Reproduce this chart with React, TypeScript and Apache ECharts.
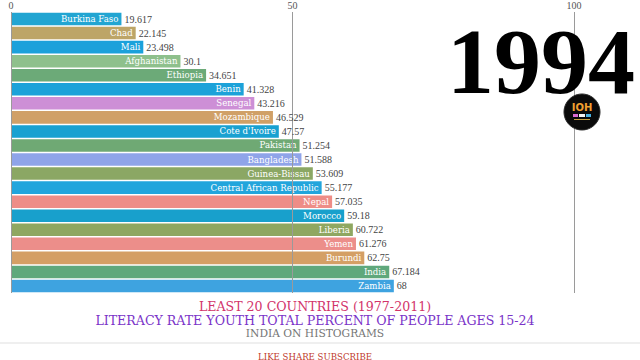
import React, { useEffect, useRef } from "react";
import * as echarts from "echarts";

const countries = [
  "Burkina Faso", "Chad", "Mali", "Afghanistan", "Ethiopia", "Benin", "Senegal",
  "Mozambique", "Cote d'Ivoire", "Pakistan", "Bangladesh", "Guinea-Bissau",
  "Central African Republic", "Nepal", "Morocco", "Liberia", "Yemen", "Burundi",
  "India", "Zambia",
];
const values = [
  19.617, 22.145, 23.498, 30.1, 34.651, 41.328, 43.216, 46.529, 47.57, 51.254,
  51.588, 53.609, 55.177, 57.035, 59.18, 60.722, 61.276, 62.75, 67.184, 68,
];
const barColors = [
  "#22a5d2", "#bda567", "#1ba1db", "#8ec08c", "#6caa78", "#1ca2d9", "#cd8fd6",
  "#d0a067", "#19a1d1", "#6fa974", "#8fa4e9", "#8ba764", "#22a5dc", "#ee8d87",
  "#18a0cc", "#8fa761", "#ec8e8a", "#d49f65", "#5fa87c", "#3ea3e0",
];
const tickValues = [0, 50, 100];
const yearText = "1994";
const title1 = "LEAST 20 COUNTRIES (1977-2011)";
const title2 = "LITERACY RATE YOUTH TOTAL PERCENT OF PEOPLE AGES 15-24";
const title3 = "INDIA ON HISTOGRAMS";
const title4 = "LIKE SHARE SUBSCRIBE";

const SERIF = "DejaVu Serif";
const SERIF2 = "Liberation Serif";

export default function App() {
  const ref = useRef<HTMLDivElement>(null);
  useEffect(() => {
    if (!ref.current) return;
    const chart = echarts.init(ref.current, null, { renderer: "svg" });
    chart.setOption({
      animation: false,
      backgroundColor: "#ffffff",
      grid: { left: 11, right: 66, top: 12, bottom: 67 },
      xAxis: {
        type: "value",
        position: "top",
        min: 0,
        max: 100,
        interval: 50,
        axisLine: { show: false },
        axisTick: { show: false },
        splitLine: { show: false },
        axisLabel: {
          margin: 2,
          fontFamily: SERIF2,
          fontSize: 10,
          color: "#555",
          formatter: (v: number) => (tickValues.includes(v) ? String(v) : ""),
        },
      },
      yAxis: {
        type: "category",
        inverse: true,
        data: countries,
        show: false,
      },
      series: [
        {
          type: "bar",
          data: values.map((v, i) => ({ value: v, itemStyle: { color: barColors[i] } })),
          barCategoryGap: "11%",
          label: {
            show: true,
            position: "insideRight",
            distance: 3,
            formatter: (p: any) => countries[p.dataIndex],
            color: "#ffffff",
            fontFamily: SERIF,
            fontSize: 8.6,
          },
        },
        {
          type: "bar",
          data: values,
          barGap: "-100%",
          barCategoryGap: "11%",
          itemStyle: { color: "rgba(0,0,0,0)" },
          label: {
            show: true,
            position: "right",
            distance: 3,
            color: "#444",
            fontFamily: SERIF2,
            fontSize: 10,
            formatter: (p: any) => String(p.value),
          },
          z: 5,
          markLine: {
            silent: true,
            symbol: "none",
            label: { show: false },
            lineStyle: { color: "#9a9a9a", width: 1, type: "solid" },
            data: tickValues.map((t) => ({ xAxis: t })),
          },
        },
      ],
      graphic: [
        {
          type: "text",
          right: 5,
          top: 14,
          z: 100,
          style: {
            text: yearText,
            fontFamily: SERIF2,
            fontWeight: "bold",
            fontSize: 94,
            fill: "#000",
          },
        },
        {
          type: "circle",
          shape: { cx: 582, cy: 112, r: 18 },
          style: { fill: "#0a0a0a", stroke: "#2a2a2a", lineWidth: 1 },
          z: 100,
        },
        {
          type: "text",
          x: 582,
          y: 107,
          z: 101,
          style: {
            text: "IOH",
            fontFamily: "DejaVu Sans",
            fontWeight: "bold",
            fontSize: 10,
            fill: "#f0a030",
            align: "center",
            verticalAlign: "middle",
          },
        },
        { type: "rect", shape: { x: 573, y: 114, width: 5, height: 3 }, style: { fill: "#d86ad0" }, z: 101 },
        { type: "rect", shape: { x: 579, y: 114, width: 6, height: 3 }, style: { fill: "#f4f4f4" }, z: 101 },
        { type: "rect", shape: { x: 586, y: 114, width: 5, height: 3 }, style: { fill: "#4ab0e0" }, z: 101 },
        { type: "rect", shape: { x: 574, y: 119, width: 16, height: 1 }, style: { fill: "#c8a040" }, z: 101 },
        {
          type: "text",
          x: 315,
          y: 306,
          style: {
            text: title1,
            fontFamily: SERIF,
            fontSize: 12.6,
            fill: "#d2336a",
            align: "center",
            verticalAlign: "middle",
          },
        },
        {
          type: "text",
          x: 315,
          y: 320,
          style: {
            text: title2,
            fontFamily: SERIF,
            fontSize: 12.6,
            fill: "#7a33c8",
            align: "center",
            verticalAlign: "middle",
          },
        },
        {
          type: "text",
          x: 315,
          y: 333,
          style: {
            text: title3,
            fontFamily: SERIF,
            fontSize: 10.7,
            fill: "#767676",
            align: "center",
            verticalAlign: "middle",
          },
        },
        {
          type: "rect",
          shape: { x: 0, y: 342, width: 640, height: 2 },
          style: { fill: "#efefef" },
        },
        {
          type: "text",
          x: 315,
          y: 352,
          style: {
            text: title4,
            fontFamily: SERIF,
            fontSize: 8.6,
            fill: "#c0392b",
            align: "center",
            verticalAlign: "top",
          },
        },
      ],
    });
    return () => chart.dispose();
  }, []);
  return (
    <div
      ref={ref}
      style={{ position: "absolute", left: 0, top: 0, width: 640, height: 360 }}
    />
  );
}
